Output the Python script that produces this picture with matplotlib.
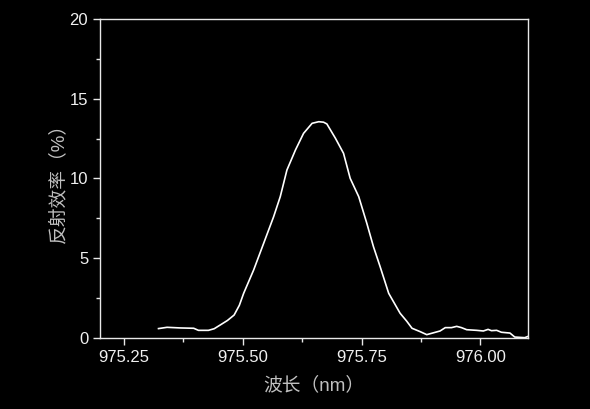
import numpy as np
import matplotlib.pyplot as plt
from matplotlib.ticker import MultipleLocator

plt.rcParams['font.family'] = ['Liberation Sans', 'Noto Sans CJK SC', 'DejaVu Sans']

# wavelength (nm) and reflectivity (%)
wavelength = [975.323, 975.341, 975.369, 975.397, 975.407, 975.428, 975.440,
              975.453, 975.468, 975.482, 975.493, 975.502, 975.523, 975.544,
              975.565, 975.579, 975.593, 975.611, 975.628, 975.646, 975.660,
              975.670, 975.677, 975.695, 975.712, 975.726, 975.744, 975.761,
              975.775, 975.789, 975.807, 975.831, 975.845, 975.856, 975.873,
              975.887, 975.915, 975.926, 975.939, 975.950, 975.960, 975.971,
              975.992, 976.006, 976.016, 976.023, 976.034, 976.044, 976.062,
              976.072, 976.093, 976.100]
reflect = [0.59, 0.67, 0.63, 0.61, 0.48, 0.48, 0.58,
           0.82, 1.10, 1.44, 2.05, 2.80, 4.26, 5.93,
           7.60, 8.86, 10.53, 11.79, 12.83, 13.46, 13.56,
           13.53, 13.42, 12.52, 11.58, 10.01, 8.86, 7.19,
           5.72, 4.47, 2.80, 1.55, 1.05, 0.61, 0.40,
           0.21, 0.44, 0.65, 0.65, 0.73, 0.65, 0.52,
           0.48, 0.44, 0.54, 0.46, 0.48, 0.36, 0.31,
           0.06, 0.02, 0.10]

fg = '#e8e8e8'
fig = plt.figure(figsize=(5.9, 4.09), dpi=100, facecolor='black')
ax = fig.add_axes([0.1695, 0.1736, 0.7255, 0.78])
ax.set_facecolor('black')

ax.plot(wavelength, reflect, color='white', lw=1.2)

ax.set_xlim(975.2, 976.1)
ax.set_ylim(0, 20)
ax.xaxis.set_major_locator(MultipleLocator(0.25))
ax.xaxis.set_minor_locator(MultipleLocator(0.125))
ax.yaxis.set_major_locator(MultipleLocator(5))
ax.yaxis.set_minor_locator(MultipleLocator(2.5))
ax.xaxis.set_major_formatter(plt.FormatStrFormatter('%.2f'))

for s in ax.spines.values():
    s.set_color(fg)
    s.set_linewidth(1.0)
ax.tick_params(which='both', direction='out', colors=fg, labelsize=12, width=1.0)
ax.tick_params(which='major', length=5)
ax.tick_params(which='minor', length=3)
for lab in ax.get_xticklabels() + ax.get_yticklabels():
    lab.set_color('#f0f0f0')

ax.set_xlabel('波长（nm）', color='#c0c0c0', fontsize=13.5, labelpad=8)
ax.set_ylabel('反射效率（%）', color='#c0c0c0', fontsize=13.5, labelpad=2)

fig.savefig('out.png', dpi=100, facecolor='black')
